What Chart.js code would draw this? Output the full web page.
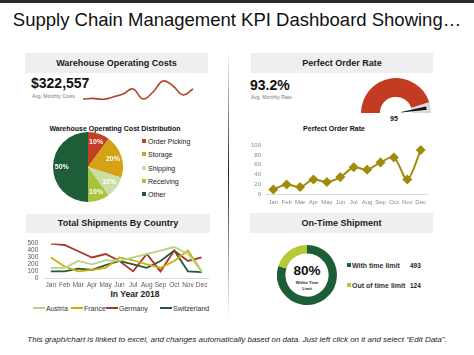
<!DOCTYPE html>
<html><head><meta charset="utf-8">
<script src="https://cdn.jsdelivr.net/npm/chart.js@4.4.1/dist/chart.umd.min.js"></script>
<style>
html,body{margin:0;padding:0;background:#fff;}
body{width:474px;height:355px;position:relative;overflow:hidden;font-family:"Liberation Sans",Arial,sans-serif;color:#222;}
.t{position:absolute;white-space:nowrap;line-height:1;}
.c{transform:translate(-50%,-50%);}
.l{transform:translateY(-50%);}
.hdr{position:absolute;background:#efefef;font-weight:bold;font-size:9px;text-align:center;color:#1a1a1a;}
canvas{position:absolute;}
.sq{position:absolute;}
.ln{position:absolute;height:2px;}
</style></head><body>
<div style="position:absolute;left:0;top:0;width:474px;height:3px;background:#2b2b2b"></div>
<div class="t c" style="left:237px;top:20px;font-size:18.5px;color:#111">Supply Chain Management KPI Dashboard Showing…</div>
<div style="position:absolute;left:228px;top:50px;width:1px;height:270px;background:linear-gradient(to bottom,rgba(0,0,0,0),#222 45%,rgba(0,0,0,0))"></div>

<div class="hdr" style="left:25px;top:53px;width:183px;height:20px;line-height:20px">Warehouse Operating Costs</div>
<div class="hdr" style="left:251px;top:53px;width:182px;height:20px;line-height:20px">Perfect Order Rate</div>
<div class="hdr" style="left:26px;top:214px;width:184px;height:19px;line-height:19px">Total Shipments By Country</div>
<div class="hdr" style="left:250px;top:213px;width:183px;height:20px;line-height:20px">On-Time Shipment</div>

<div class="t l" style="left:31px;top:83px;font-size:14px;font-weight:bold;color:#111">$322,557</div>
<div class="t l" style="left:32px;top:96px;font-size:5px;color:#777">Avg. Monthly Costs</div>
<div class="t l" style="left:250px;top:85px;font-size:14px;font-weight:bold;color:#111">93.2%</div>
<div class="t l" style="left:251px;top:97px;font-size:5px;color:#777">Avg. Monthly Rate</div>

<div class="t c" style="left:115px;top:128px;font-size:7px;font-weight:bold;color:#111">Warehouse Operating Cost Distribution</div>
<div class="t c" style="left:334px;top:128px;font-size:7px;font-weight:bold;color:#111">Perfect Order Rate</div>
<div id="g95" class="t c" style="left:394px;top:118px;font-size:7px;font-weight:bold;color:#111"></div>

<div class="t c" style="left:135px;top:294px;font-size:8.5px;font-weight:bold;color:#222">In Year 2018</div>

<div id="pct" class="t c" style="left:307px;top:271px;font-size:13.5px;font-weight:bold;color:#111"></div>
<div class="t c" style="left:307px;top:283px;font-size:4px;font-weight:bold;color:#222">Within Time</div>
<div class="t c" style="left:307px;top:289px;font-size:4px;font-weight:bold;color:#222">Limit</div>

<div class="t c" style="left:237px;top:340px;font-size:8px;font-style:italic;color:#222">This graph/chart is linked to excel, and changes automatically based on data. Just left click on it and select “Edit Data”.</div>

<script>
// ---------- DATA ----------
const months = ['Jan','Feb','Mar','Apr','May','Jun','Jul','Aug','Sep','Oct','Nov','Dec'];
const monthlyCosts = [302, 302.6, 301.8, 304, 307, 312, 302, 309, 320, 315, 306, 312];
const costCategories = ['Order Picking','Storage','Shipping','Receiving','Other'];
const costShares = [10, 20, 10, 10, 50];
const gaugeParts = [90, 10];
const gaugeTarget = 95;
const perfectOrderRate = [10, 20, 15, 30, 25, 35, 55, 50, 65, 75, 30, 90];
const rateTicks = [0, 20, 40, 60, 80, 100];
const countries = ['Austria','France','Germany','Switzerland'];
const shipAustria = [150, 150, 250, 200, 260, 250, 300, 350, 400, 450, 350, 100];
const shipFrance = [300, 170, 100, 120, 150, 300, 260, 200, 150, 250, 400, 100];
const shipGermany = [500, 480, 390, 300, 350, 250, 100, 350, 100, 400, 250, 300];
const shipSwitzerland = [100, 100, 140, 120, 190, 250, 200, 150, 250, 400, 100, 90];
const shipTicks = [0, 100, 200, 300, 400, 500];
const onTimeLabels = ['With time limit','Out of time limit'];
const onTimeCounts = [493, 124];

// ---------- STYLES ----------
const costColors = ['#c43f25','#d6a215','#c8e0a6','#a9c43c','#1d5e38'];
const countryColors = ['#b3d585','#cfae06','#a8352a','#1d5e38'];
const onTimeColors = ['#1d5e38','#b7c935'];
const FONT = '"Liberation Sans", Arial, sans-serif';

Chart.defaults.font.family = FONT;
Chart.defaults.animation = false;
Chart.defaults.responsive = false;
Chart.defaults.maintainAspectRatio = false;
Chart.defaults.devicePixelRatio = 1;
Chart.defaults.plugins.legend.display = false;
Chart.defaults.plugins.tooltip.enabled = false;

function mk(x, y, w, h) {
  const c = document.createElement('canvas');
  c.width = w; c.height = h;
  c.style.left = x + 'px'; c.style.top = y + 'px';
  c.style.width = w + 'px'; c.style.height = h + 'px';
  document.body.appendChild(c);
  return c.getContext('2d');
}
function txt(s, cls, style) {
  const d = document.createElement('div');
  d.className = 't ' + cls; d.style.cssText = style; d.textContent = s;
  document.body.appendChild(d); return d;
}

// ---------- Sparkline ----------
new Chart(mk(80, 76, 116, 28), {
  type: 'line',
  data: { labels: months, datasets: [{ data: monthlyCosts, borderColor: '#b4432b', borderWidth: 1.6, pointRadius: 0, tension: 0.45 }] },
  options: {
    layout: { padding: 3 },
    scales: { x: { display: false, offset: false }, y: { display: false, min: 300, max: 322 } }
  }
});

// ---------- Pie ----------
const pieLabels = {
  id: 'pieLabels',
  afterDatasetsDraw(chart) {
    const ctx = chart.ctx; const meta = chart.getDatasetMeta(0);
    ctx.save();
    ctx.font = 'bold 7px ' + FONT; ctx.fillStyle = '#fff';
    ctx.textAlign = 'center'; ctx.textBaseline = 'middle';
    meta.data.forEach((arc, i) => {
      const a = (arc.startAngle + arc.endAngle) / 2;
      const r = arc.outerRadius * 0.75;
      ctx.fillText(costShares[i] + '%', arc.x + Math.cos(a) * r, arc.y + Math.sin(a) * r);
    });
    ctx.restore();
  }
};
new Chart(mk(53, 132, 70, 70), {
  type: 'pie',
  data: { labels: costCategories, datasets: [{ data: costShares, backgroundColor: costColors, borderWidth: 0 }] },
  options: { layout: { padding: 0 } },
  plugins: [pieLabels]
});
const pieLegendY = [141, 154.3, 167.7, 181, 194.3];
costCategories.forEach((name, i) => {
  const s = document.createElement('div');
  s.className = 'sq';
  s.style.cssText = `left:142px;top:${pieLegendY[i]-2}px;width:4px;height:4px;background:${costColors[i]}`;
  document.body.appendChild(s);
  txt(name, 'l', `left:148px;top:${pieLegendY[i]}px;font-size:7px;color:#222`);
});

// ---------- Gauge ----------
const needle = {
  id: 'needle',
  afterDatasetsDraw(chart) {
    const ctx = chart.ctx; const arc = chart.getDatasetMeta(0).data[0];
    const a = Math.PI + Math.PI * gaugeTarget / 100;
    const cx = arc.x, cy = arc.y, R = arc.outerRadius;
    const r0 = R * 0.15, r1 = R * 0.88;
    const nx = -Math.sin(a), ny = Math.cos(a);
    ctx.save(); ctx.fillStyle = '#111';
    ctx.beginPath();
    ctx.moveTo(cx + Math.cos(a) * r0 + nx * 0.3, cy + Math.sin(a) * r0 + ny * 0.3);
    ctx.lineTo(cx + Math.cos(a) * r1 + nx * 1.6, cy + Math.sin(a) * r1 + ny * 1.6);
    ctx.lineTo(cx + Math.cos(a) * r1 - nx * 1.6, cy + Math.sin(a) * r1 - ny * 1.6);
    ctx.lineTo(cx + Math.cos(a) * r0 - nx * 0.3, cy + Math.sin(a) * r0 - ny * 0.3);
    ctx.closePath(); ctx.fill(); ctx.restore();
  }
};
new Chart(mk(361, 78, 70, 41), {
  type: 'doughnut',
  data: { labels: ['Rate','Rest'], datasets: [{ data: gaugeParts, backgroundColor: ['#c33b22','#d9d9d9'], borderWidth: 0 }] },
  options: { rotation: -90, circumference: 180, cutout: '46%', layout: { padding: { bottom: 6 } } },
  plugins: [needle]
});
document.getElementById('g95').textContent = gaugeTarget;

// ---------- Perfect order rate line ----------
new Chart(mk(240, 136, 195, 72), {
  type: 'line',
  data: { labels: months, datasets: [{ data: perfectOrderRate, borderColor: '#a08c0c', backgroundColor: '#a08c0c', borderWidth: 2, pointStyle: 'rectRot', pointRadius: 3.6, tension: 0.3 }] },
  options: {
    layout: { padding: { left: 6.6, top: 8.3, right: 7.6, bottom: 0.7 } },
    scales: {
      x: { offset: true, grid: { display: false, drawTicks: false }, border: { display: true, color: '#d9d9d9' },
           ticks: { padding: 4, color: '#8a8a8a', font: { size: 6 }, maxRotation: 0, autoSkip: false },
           afterFit(s) { s.height = 13; } },
      y: { min: 0, max: 100, grid: { display: false, drawTicks: false }, border: { display: false },
           afterBuildTicks(s) { s.ticks = rateTicks.map(v => ({ value: v })); },
           ticks: { padding: 5.6, color: '#8a8a8a', font: { size: 6 }, autoSkip: false },
           afterFit(s) { s.width = 20; } }
    }
  }
});

// ---------- Shipments ----------
const shipData = [shipAustria, shipFrance, shipGermany, shipSwitzerland];
new Chart(mk(20, 234, 194, 58), {
  type: 'line',
  data: { labels: months, datasets: countries.map((c, i) => ({ label: c, data: shipData[i], borderColor: countryColors[i], borderWidth: 1.8, pointRadius: 0, tension: 0 })) },
  options: {
    layout: { padding: { left: 6, top: 6, right: 5.5, bottom: 2.7 } },
    scales: {
      x: { offset: true, grid: { display: false, drawTicks: false }, border: { display: true, color: '#d9d9d9' },
           ticks: { padding: 3, color: '#595959', font: { size: 6.5 }, maxRotation: 0, autoSkip: false },
           afterFit(s) { s.height = 11; } },
      y: { min: 0, max: 500, grid: { display: false, drawTicks: false }, border: { display: false },
           afterBuildTicks(s) { s.ticks = shipTicks.map(v => ({ value: v })); },
           ticks: { padding: 5.7, color: '#595959', font: { size: 6.5 }, autoSkip: false },
           afterFit(s) { s.width = 18; } }
    }
  }
});
const legX = [33, 71, 106, 160];
countries.forEach((c, i) => {
  const l = document.createElement('div');
  l.className = 'ln';
  l.style.cssText = `left:${legX[i]}px;top:307px;width:12px;background:${countryColors[i]}`;
  document.body.appendChild(l);
  txt(c, 'l', `left:${legX[i]+13}px;top:308px;font-size:7px;color:#333`);
});

// ---------- On-time donut ----------
new Chart(mk(277, 245, 60, 60), {
  type: 'doughnut',
  data: { labels: onTimeLabels, datasets: [{ data: onTimeCounts, backgroundColor: onTimeColors, borderWidth: 0 }] },
  options: { cutout: '72%', layout: { padding: 0 } }
});
const total = onTimeCounts.reduce((a, b) => a + b, 0);
document.getElementById('pct').textContent = Math.round(onTimeCounts[0] / total * 100) + '%';
const otY = [265, 285];
onTimeLabels.forEach((name, i) => {
  const s = document.createElement('div');
  s.className = 'sq';
  s.style.cssText = `left:347px;top:${otY[i]-2}px;width:4px;height:4px;background:${onTimeColors[i]}`;
  document.body.appendChild(s);
  txt(name, 'l', `left:352px;top:${otY[i]}px;font-size:7px;font-weight:bold;color:#333`);
  txt(String(onTimeCounts[i]), 'l', `left:410px;top:${otY[i]+1}px;font-size:6.5px;font-weight:bold;color:#222`);
});
</script>
</body></html>
